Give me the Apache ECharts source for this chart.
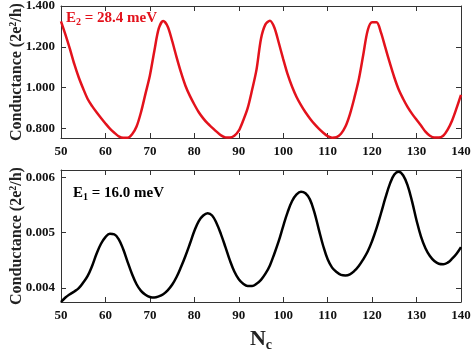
<!DOCTYPE html>
<html><head><meta charset="utf-8">
<script src="https://cdn.jsdelivr.net/npm/echarts@6/dist/echarts.min.js"></script>
<style>html,body{margin:0;padding:0;background:#fff}#c{width:474px;height:352px}</style>
</head><body><div id="c"></div>
<script>
const nc = [];
for (let n = 50; n <= 140; n++) nc.push(n);
const g2 = [1.325,1.26,1.19,1.115,1.05,0.995,0.945,0.91,0.88,0.852,0.825,0.80,0.78,0.762,0.755,0.755,0.772,0.81,0.88,0.97,1.06,1.18,1.29,1.326,1.30,1.23,1.15,1.075,1.01,0.96,0.918,0.88,0.85,0.825,0.805,0.785,0.767,0.757,0.756,0.765,0.79,0.84,0.90,0.99,1.09,1.24,1.31,1.328,1.295,1.22,1.14,1.065,1.005,0.955,0.915,0.88,0.85,0.823,0.80,0.78,0.763,0.755,0.758,0.775,0.81,0.87,0.95,1.04,1.16,1.28,1.32,1.32,1.27,1.195,1.12,1.05,0.99,0.945,0.905,0.872,0.843,0.815,0.785,0.765,0.756,0.756,0.765,0.795,0.84,0.90,0.965];
const g1 = [0.00375,0.00383,0.00389,0.00394,0.00400,0.00410,0.00422,0.00440,0.00462,0.00480,0.00492,0.00498,0.00497,0.00488,0.00470,0.00447,0.00425,0.00407,0.00395,0.00388,0.00384,0.00383,0.00385,0.00389,0.00396,0.00406,0.00420,0.00438,0.00458,0.00480,0.00503,0.00521,0.00531,0.00535,0.00531,0.00517,0.00497,0.00474,0.00450,0.00430,0.00416,0.00408,0.00404,0.00404,0.00408,0.00415,0.00426,0.00441,0.00462,0.00485,0.00512,0.00537,0.00557,0.00569,0.00574,0.00571,0.00560,0.00537,0.00506,0.00476,0.00452,0.00437,0.00429,0.00424,0.00423,0.00425,0.00431,0.00440,0.00452,0.00466,0.00485,0.00508,0.00535,0.00563,0.00588,0.00605,0.00610,0.00603,0.00585,0.00556,0.00522,0.00493,0.00472,0.00458,0.00449,0.00444,0.00443,0.00446,0.00453,0.00462,0.00474];
const yTicksTop = [0.8, 1.0, 1.2, 1.4];
const yTicksBot = [0.004, 0.005, 0.006];
const labelTop = 'E{s|2} = 28.4 meV';
const labelBot = 'E{s|1} = 16.0 meV';

const FONT = '"Liberation Serif", "Times New Roman", serif';
const RED = '#e3121c';
const AX = '#333';
const lab = {fontFamily: FONT, fontWeight: 'bold', fontSize: 13, color: '#111'};
const yName = {
  name: 'Conductance (2e{p|2}/h)', nameLocation: 'middle', nameGap: 35, nameRotate: 90,
  nameMoveOverlap: false,
  nameTextStyle: {fontFamily: FONT, fontWeight: 'bold', fontSize: 16, color: '#222',
    rich: {p: {fontFamily: FONT, fontWeight: 'bold', fontSize: 10, color: '#222', padding: [0,0,8,0]}}}
};
function xa(grid, pos, show, extra) {
  return Object.assign({type: 'value', gridIndex: grid, position: pos, min: 50, max: 140, interval: 10,
    axisLine: {show: true, onZero: false, lineStyle: {color: AX, width: 1}},
    axisTick: {show: true, inside: true, length: 5, lineStyle: {color: AX}},
    axisLabel: Object.assign({show: show, margin: 7}, lab),
    splitLine: {show: false}}, extra || {});
}
function ya(grid, pos, show, min, max, ticks, fmt, extra) {
  return Object.assign({type: 'value', gridIndex: grid, position: pos, min: min, max: max,
    axisLine: {show: true, onZero: false, lineStyle: {color: AX, width: 1}},
    axisTick: {show: true, inside: true, length: 5, customValues: ticks, lineStyle: {color: AX}},
    axisLabel: Object.assign({show: show, margin: 6, customValues: ticks, formatter: v => v.toFixed(fmt)}, lab),
    splitLine: {show: false}}, extra || {});
}
const chart = echarts.init(document.getElementById('c'), null, {renderer: 'canvas'});
chart.setOption({
  animation: false,
  grid: [
    {left: 61, right: 13, top: 6, height: 132, outerBoundsMode: 'none', containLabel: false},
    {left: 61, right: 13, top: 170, height: 132, outerBoundsMode: 'none', containLabel: false}
  ],
  xAxis: [
    xa(0, 'bottom', true),
    xa(0, 'top', false),
    xa(1, 'bottom', true, {name: 'N{s|c}', nameLocation: 'middle', nameGap: 24,
      nameTextStyle: {fontFamily: FONT, fontWeight: 'bold', fontSize: 22, color: '#222',
        rich: {s: {fontFamily: FONT, fontWeight: 'bold', fontSize: 14, color: '#222', padding: [12,0,0,0]}}}}),
    xa(1, 'top', false)
  ],
  yAxis: [
    ya(0, 'left', true, 0.754, 1.4, yTicksTop, 3, yName),
    ya(0, 'right', false, 0.754, 1.4, yTicksTop, 3),
    ya(1, 'left', true, 0.00375, 0.00613, yTicksBot, 3, yName),
    ya(1, 'right', false, 0.00375, 0.00613, yTicksBot, 3)
  ],
  series: [
    {type: 'line', xAxisIndex: 0, yAxisIndex: 0, data: nc.map((n, i) => [n, g2[i]]),
      showSymbol: false, smooth: 0.3, lineStyle: {color: RED, width: 2.5}},
    {type: 'line', xAxisIndex: 2, yAxisIndex: 2, data: nc.map((n, i) => [n, g1[i]]),
      showSymbol: false, smooth: 0.4, lineStyle: {color: '#000', width: 2.5}}
  ],
  graphic: [
    {type: 'text', left: 66, top: 11, style: {text: labelTop, fill: RED, font: 'bold 15px ' + FONT,
      rich: {s: {fill: RED, font: 'bold 10px ' + FONT, padding: [8,0,0,0]}}}},
    {type: 'text', left: 73, top: 186, style: {text: labelBot, fill: '#000', font: 'bold 15px ' + FONT,
      rich: {s: {fill: '#000', font: 'bold 10px ' + FONT, padding: [8,0,0,0]}}}}
  ]
});
</script></body></html>
